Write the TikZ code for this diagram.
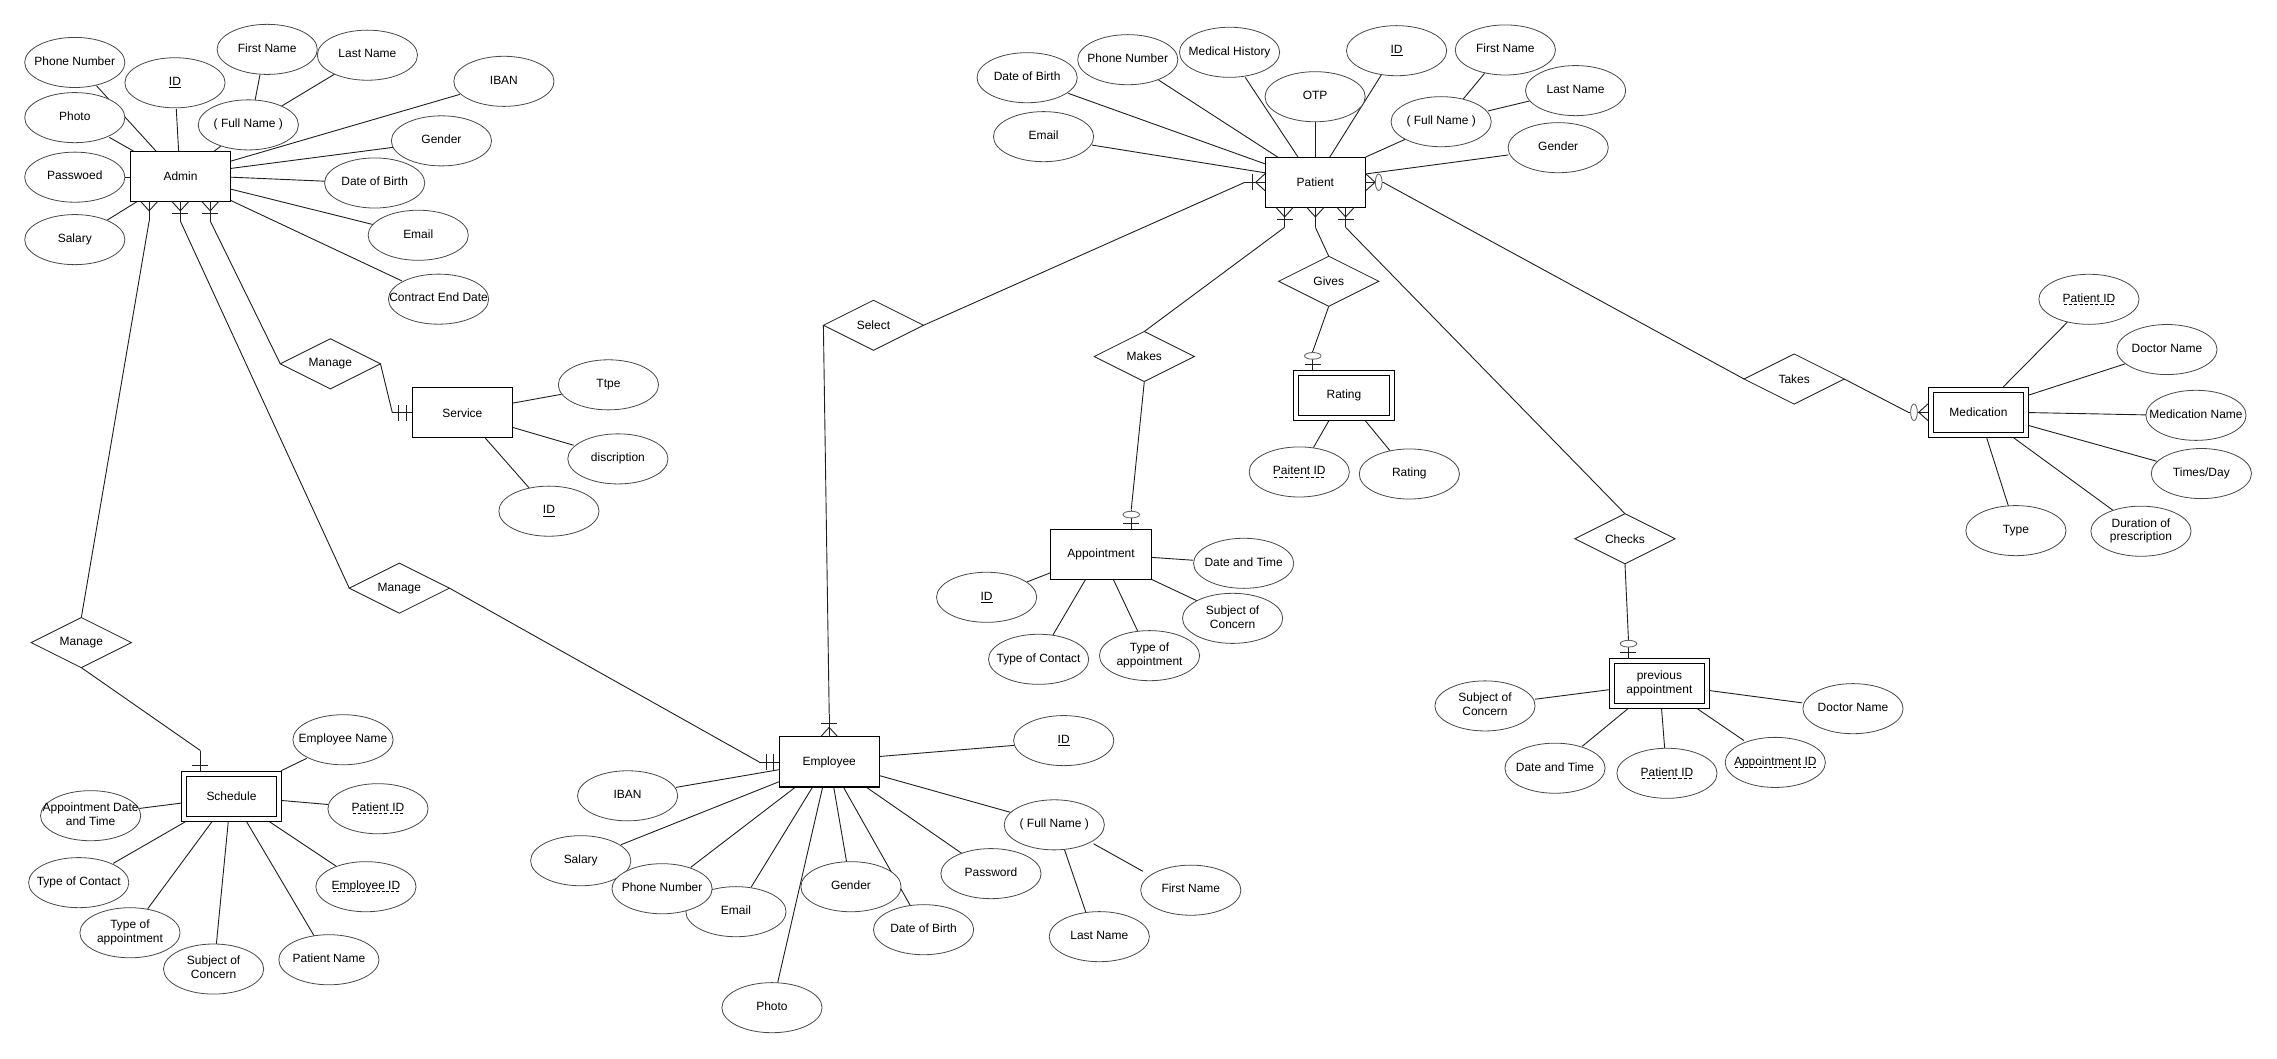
\documentclass[tikz,border=0pt]{standalone}
\usepackage{fontspec}
\setmainfont{Liberation Sans}
\usetikzlibrary{shapes.geometric,backgrounds}
\tikzset{
  ln/.style={draw=black!88,line width=0.62pt},
  attr/.style={ellipse,draw=black!72,line width=0.55pt,fill=white,minimum width=69pt,minimum height=34.5pt,inner sep=0pt,outer sep=0pt},
  ent/.style={rectangle,draw=black,line width=0.72pt,fill=white,minimum width=69pt,minimum height=34.5pt,inner sep=0pt,outer sep=0pt,align=center},
  rel/.style={diamond,aspect=2,draw=black!85,line width=0.6pt,fill=white,minimum width=69pt,minimum height=34.5pt,inner sep=0pt,outer sep=0pt},
  ovl/.style={draw=black!60,line width=0.6pt,fill=white},
}
\newcommand\tx[1]{\makebox[0pt][c]{\begin{tabular}{@{}c@{}}#1\end{tabular}}}
\newcommand\att[3]{\node[attr] (#1) at (#2) {\tx{#3}};}
\newcommand\weakent[3]{\node[ent] (#1) at (#2) {#3};
  \draw[draw=black,line width=0.72pt] ([shift={(3.4,3.4)}]#1.north west) rectangle ([shift={(-3.4,-3.4)}]#1.south east);}
\newcommand\lk[4]{\draw[ln] ([shift={(#2)}]#1.center) -- ([shift={(#4)}]#3.center);}
\newcommand\joinend[5]{\begin{scope}[shift={(#2)},rotate=#3]
  \coordinate (#1) at (#4,0); \draw[ln] (0,0)--(#4,0); #5 \end{scope}}
\newcommand\mycrow{\draw[ln] (0,-6)--(6.6,0)--(0,6);}
\newcommand\mybar[1]{\draw[ln] (#1,-5.5)--(#1,5.5);}
\newcommand\myoval[1]{\draw[ovl] (#1,0) ellipse [x radius=2.3,y radius=5.7];}
\newsavebox\dubox
\newcommand\du[1]{\sbox\dubox{#1}\rlap{\usebox\dubox}\rlap{\raisebox{-1.7pt}{\hbox to \wd\dubox{\xleaders\hbox to 3.3pt{\hss\vrule width 2.1pt height 0.45pt\hss}\hfill}}}\kern\wd\dubox\relax}
\begin{document}
\begin{tikzpicture}[x=1pt,y=-1pt,font=\fontsize{8.25}{9.6}\selectfont]
\useasboundingbox (0,0) rectangle (1568,729);
% ---------- entities
\node[ent] (admin) at (124.3,121.3) {Admin};
\node[ent] (service) at (318.4,284.3) {Service};
\node[ent] (employee) at (571,524.7) {Employee};
\node[ent] (patient) at (905.8,125.5) {Patient};
\node[ent] (appt) at (758.2,381.7) {Appointment};
\weakent{schedule}{159.4,548.5}{Schedule}
\weakent{rating}{925.5,272.2}{Rating}
\weakent{medication}{1362.4,283.9}{Medication}
\weakent{prevappt}{1142.7,470.9}{previous\\appointment}
% ---------- relations
\node[rel] (mgSched) at (56,442.5) {Manage};
\node[rel] (mgEmp) at (275,405) {Manage};
\node[rel] (mgServ) at (227.5,250.5) {Manage};
\node[rel] (select) at (601.5,224) {Select};
\node[rel] (makes) at (788,245.5) {Makes};
\node[rel] (gives) at (915,193.7) {Gives};
\node[rel] (takes) at (1235.5,261) {Takes};
\node[rel] (checks) at (1119,371) {Checks};
% ---------- admin attributes
\att{aPhone}{51.5,43}{Phone Number}
\att{aId}{120.5,57}{\underline{ID}}
\att{aFirst}{184,34}{First Name}
\att{aLast}{253,38}{Last Name}
\att{aFull}{171,86}{( Full Name )}
\att{aIban}{347,56}{IBAN}
\att{aGender}{304,97}{Gender}
\att{aDob}{258,126}{Date of Birth}
\att{aEmail}{288,162}{Email}
\att{aEnd}{302,206}{Contract End Date}
\att{aPhoto}{51.5,81}{Photo}
\att{aPass}{51.5,122}{Passwoed}
\att{aSalary}{51.5,165}{Salary}
% ---------- service attributes
\att{sType}{419,265}{Ttpe}
\att{sDesc}{425.5,316}{discription}
\att{sId}{378,352}{\underline{ID}}
% ---------- schedule attributes
\att{cEmp}{236.2,509.4}{Employee Name}
\att{cPid}{260.3,556.9}{\du{Patient ID}}
\att{cEid}{252,610.6}{\du{Employee ID}}
\att{cPat}{226.5,660.9}{Patient Name}
\att{cSubj}{147.1,667.3}{Subject of\\Concern}
\att{cTa}{89.5,642.3}{Type of\\appointment}
\att{cTc}{54.2,607.8}{Type of Contact}
\att{cDate}{62.4,561.7}{Appointment Date\\and Time}
% ---------- employee attributes
\att{eIban}{432.2,548}{IBAN}
\att{eSalary}{399.9,592.7}{Salary}
\att{eEmail}{506.8,627.8}{Email}
\att{ePhone}{455.9,612}{Phone Number}
\att{eGender}{586,610.6}{Gender}
\att{eDob}{636,640.2}{Date of Birth}
\att{ePass}{682.4,601.6}{Password}
\att{ePhoto}{531.6,693.9}{Photo}
\att{eId}{732.5,510}{\underline{ID}}
\att{eFull}{726,568}{( Full Name )}
\att{eFirst}{820,613}{First Name}
\att{eLast}{757,645}{Last Name}
% ---------- patient attributes
\att{pDob}{707.3,53.5}{Date of Birth}
\att{pPhone}{776.6,41.1}{Phone Number}
\att{pMed}{846.7,36}{Medical History}
\att{pId}{961.7,34.9}{\underline{ID}}
\att{pFirst}{1036.6,34.4}{First Name}
\att{pLast}{1085,62.4}{Last Name}
\att{pOtp}{905.6,66.6}{OTP}
\att{pFull}{992.4,83.8}{( Full Name )}
\att{pGender}{1073,101.7}{Gender}
\att{pEmail}{718.6,94.1}{Email}
% ---------- rating attributes
\att{rPid}{894.7,325}{\du{Paitent ID}}
\att{rRate}{970.5,326.4}{Rating}
% ---------- appointment attributes
\att{tDate}{856.4,387.9}{Date and Time}
\att{tSubj}{848.8,425.8}{Subject of\\Concern}
\att{tTa}{791.6,451.5}{Type of\\appointment}
\att{tTc}{715.2,454}{Type of Contact}
\att{tId}{679.4,411.3}{\underline{ID}}
% ---------- previous appointment attributes
\att{vSubj}{1022.6,486.1}{Subject of\\Concern}
\att{vDate}{1070.8,529}{Date and Time}
\att{vPid}{1147.9,532.5}{\du{Patient ID}}
\att{vAid}{1222.5,525}{\du{Appointment ID}}
\att{vDoc}{1276,488}{Doctor Name}
% ---------- medication attributes
\att{mPid}{1438.5,206.1}{\du{Patient ID}}
\att{mDoc}{1492.2,240.7}{Doctor Name}
\att{mName}{1512.2,286}{Medication Name}
\att{mTimes}{1515.9,326.1}{Times/Day}
\att{mDur}{1474.3,365.8}{Duration of\\prescription}
\att{mType}{1388.2,365.4}{Type}
% ---------- relationship ends
\joinend{a1}{[shift={(-21.6,0)}]admin.south}{-90}{13.7}{\mycrow}
\joinend{a2}{[shift={(-0.1,0)}]admin.south}{-90}{13.7}{\mycrow\mybar{8.1}}
\joinend{a3}{[shift={(20.5,0)}]admin.south}{-90}{13.7}{\mycrow\mybar{8.1}}
\joinend{s1}{service.west}{180}{13.7}{\mybar{4}\mybar{9.2}}
\joinend{e1}{employee.west}{180}{13.7}{\mybar{4}\mybar{8.5}}
\joinend{e2}{employee.north}{90}{16}{\mycrow\mybar{9.5}}
\joinend{c1}{[shift={(-21.4,0)}]schedule.north}{90}{14.4}{\mybar{4.4}}
\joinend{p1}{patient.west}{180}{14}{\mycrow\mybar{8.7}}
\joinend{p2}{[shift={(-21.2,0)}]patient.south}{-90}{13.8}{\mycrow\mybar{8.3}}
\joinend{p3}{patient.south}{-90}{13.8}{\mycrow}
\joinend{p4}{[shift={(20.8,0)}]patient.south}{-90}{13.8}{\mycrow\mybar{8.3}}
\joinend{p5}{patient.east}{0}{12}{\mycrow\myoval{9.1}}
\joinend{r1}{[shift={(-21.5,0)}]rating.north}{90}{13}{\mybar{4.2}\myoval{9.9}}
\joinend{t1}{[shift={(20.8,0)}]appt.north}{90}{13.5}{\mybar{4.1}\myoval{10.1}}
\joinend{v1}{[shift={(-21.3,0)}]prevappt.north}{90}{12.8}{\mybar{4.4}\myoval{10.4}}
\joinend{m1}{medication.west}{180}{13.8}{\mycrow\myoval{9.9}}
% ---------- connectors, behind every shape
\begin{pgfonlayer}{background}
\draw[ln] (a1) -- (mgSched.north);
\draw[ln] (mgSched.south) -- (c1);
\draw[ln] (a2) -- (mgEmp.west);
\draw[ln] (mgEmp.east) -- (e1);
\draw[ln] (a3) -- (mgServ.west);
\draw[ln] (mgServ.east) -- (s1);
\draw[ln] (e2) -- (select.west);
\draw[ln] (select.east) -- (p1);
\draw[ln] (p2) -- (makes.north);
\draw[ln] (makes.south) -- (t1);
\draw[ln] (p3) -- (gives.north);
\draw[ln] (gives.south) -- (r1);
\draw[ln] (p4) -- (checks.north);
\draw[ln] (checks.south) -- (v1);
\draw[ln] (p5) -- (takes.west);
\draw[ln] (takes.east) -- (m1);
% admin
\lk{admin}{-16.7,-17.1}{aPhone}{14.9,16}
\lk{admin}{-32.1,-17.1}{aPhoto}{23.8,13.6}
\lk{admin}{-1.3,-17.3}{aId}{0.9,18}
\lk{admin}{23.3,-17.3}{aFull}{-19,14.7}
\lk{aFull}{4.5,-16.2}{aFirst}{-5,17.6}
\lk{aFull}{23,-13}{aLast}{-22.5,13}
\lk{admin}{34.5,-10.3}{aIban}{-30.4,9}
\lk{admin}{34.5,-5.3}{aGender}{-33.5,4.5}
\lk{admin}{34.5,0.7}{aDob}{-33.6,-1.2}
\lk{admin}{34.5,8.9}{aEmail}{-30.4,-7.2}
\lk{admin}{34.5,16.7}{aEnd}{-25.3,-12.6}
\lk{admin}{-34.5,0.7}{aPass}{34.5,0}
\lk{admin}{-29.6,17.3}{aSalary}{22.3,-13.4}
% service
\lk{service}{34.6,-6.7}{sType}{-32.3,6.5}
\lk{service}{34.6,10}{sDesc}{-30.5,-9.4}
\lk{service}{15.8,17.4}{sId}{-13.7,-16.1}
% schedule
\lk{schedule}{34.3,-17.8}{cEmp}{-25,12.8}
\lk{schedule}{34.3,2.7}{cPid}{-34.3,-2.9}
\lk{schedule}{26.1,17.3}{cEid}{-20.6,-14.2}
\lk{schedule}{10.4,17.3}{cPat}{-10.1,-16.3}
\lk{schedule}{-2.2,17.3}{cSubj}{1.9,-17.3}
\lk{schedule}{-13.4,17.3}{cTa}{12.2,-16.5}
\lk{schedule}{-31.6,17.3}{cTc}{23.8,-13.3}
\lk{schedule}{-34.4,4.5}{cDate}{33.6,-5}
% employee
\lk{employee}{-34.5,5.3}{eIban}{33.3,-5.8}
\lk{employee}{-34.5,13.6}{eSalary}{27.7,-11}
\lk{employee}{-23.1,17.2}{ePhone}{19.7,-14.7}
\lk{employee}{-11.4,17.2}{eEmail}{10.4,-16.8}
\lk{employee}{-4.5,17.2}{ePhoto}{3.9,-17.2}
\lk{employee}{3.1,17.2}{eGender}{-3,-17}
\lk{employee}{9.7,17.2}{eDob}{-8.9,-16.2}
\lk{employee}{25.3,17.2}{ePass}{-20.2,-14}
\lk{employee}{35,9.5}{eFull}{-29.4,-8.4}
\lk{employee}{35,-3.8}{eId}{-34.3,3.3}
\lk{eFull}{27,13}{eFirst}{-33,-13}
\lk{eFull}{7,17}{eLast}{-9,-16}
% patient
\lk{patient}{-34.5,-12.6}{pDob}{28.4,10.8}
\lk{patient}{-25.9,-17.3}{pPhone}{21.2,14}
\lk{patient}{-11.9,-17.3}{pMed}{10.8,17.3}
\lk{patient}{-0.2,-17.3}{pOtp}{0,17.2}
\lk{patient}{9.9,-17.3}{pId}{-10.5,16.7}
\lk{patient}{-34.5,-6.5}{pEmail}{33.4,5.8}
\lk{patient}{34.5,-17.3}{pFull}{-24.7,12.1}
\lk{patient}{34.5,-5.7}{pGender}{-34.3,5}
\lk{pFull}{15,-15.4}{pFirst}{-14.3,16.1}
\lk{pFull}{32.3,-7.4}{pLast}{-32,7.2}
% rating
\lk{rating}{-10.3,17.3}{rPid}{9.7,-16.7}
\lk{rating}{14.5,17.3}{rRate}{-13.3,-16}
% appointment
\lk{appt}{34.6,2.1}{tDate}{-34.7,-2.1}
\lk{appt}{34.6,17.2}{tSubj}{-24.3,-12}
\lk{appt}{8.4,17.2}{tTa}{-8.2,-17}
\lk{appt}{-10.6,17.2}{tTc}{9.6,-16.3}
\lk{appt}{-34.5,12.6}{tId}{27.6,-10.5}
% previous appointment
\lk{prevappt}{-34.3,4}{vSubj}{34.4,-4.6}
\lk{prevappt}{-21.9,17.3}{vDate}{18.8,-15.1}
\lk{prevappt}{1.5,17.3}{vPid}{-1.6,-17.5}
\lk{prevappt}{26.3,17.3}{vAid}{-21.5,-15}
\lk{prevappt}{34.3,4.6}{vDoc}{-35,-4}
% medication
\lk{medication}{17.1,-17.5}{mPid}{-14.9,15.8}
\lk{medication}{34.8,-11.9}{mDoc}{-28.9,9.9}
\lk{medication}{34.8,0.2}{mName}{-34.4,-0.3}
\lk{medication}{34.8,9.2}{mTimes}{-30.8,-8.5}
\lk{medication}{24,17.4}{mDur}{-19,-14.2}
\lk{medication}{5.6,17.4}{mType}{-5.2,-17}
\end{pgfonlayer}
\end{tikzpicture}
\end{document}
